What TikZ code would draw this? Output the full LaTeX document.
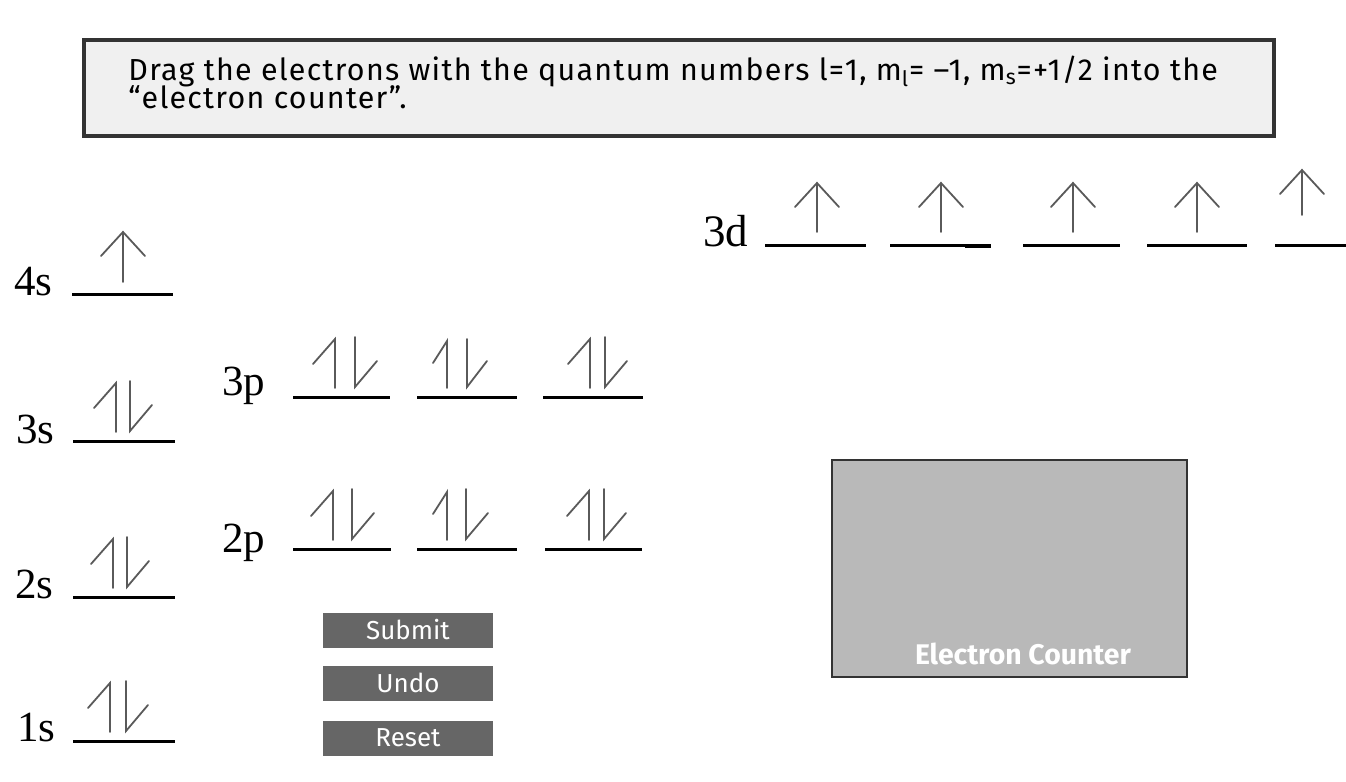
\documentclass[tikz,border=0pt]{standalone}
\usepackage{fontspec}
\setmainfont{Liberation Serif}
\newfontfamily\uifont{Fira Sans}
\newfontfamily\askfont[LetterSpace=4.2]{Fira Sans}
\usepackage{tikz}
\usetikzlibrary{arrows.meta}
\usepackage{xcolor}
\definecolor{panelgray}{HTML}{F0F0F0}
\definecolor{framegray}{HTML}{333333}
\definecolor{buttongray}{HTML}{666666}
\definecolor{countergray}{HTML}{B9B9B9}
\definecolor{spingray}{HTML}{5A5A5A}

\begin{document}
\begin{tikzpicture}[x=0.5pt,y=-0.5pt,line cap=round,
  level/.style={line width=1.5pt,black,line cap=butt},
  spin/.style={line width=0.9pt,spingray,line join=miter},
  shell/.style={anchor=base west,inner sep=0pt,font=\fontsize{21.5}{24}\selectfont},
  ask/.style={anchor=base west,inner sep=0pt,font=\askfont\fontsize{15.2}{17}\selectfont},
  button/.style={fill=buttongray,text=white,minimum width=85pt,minimum height=17.5pt,inner sep=0pt,font=\uifont\fontsize{13}{15}\selectfont}]
\useasboundingbox[fill=white] (0,0) rectangle (1346,782);
% question panel
\draw[fill=panelgray,draw=framegray,line width=2pt] (84,40) rectangle (1274,136);
\node[ask] (ask1) at (128,80) {Drag the electrons with the quantum numbers l=1, m\textsubscript{l}= –1, m\textsubscript{s}=+1/2 into the};
\node[ask] (ask2) at (128,108) {“electron counter”.};
% shell labels
\node[shell] (l4s) at (14,295) {4s};
\node[shell] (l3s) at (16,443) {3s};
\node[shell] (l2s) at (15,598) {2s};
\node[shell] (l1s) at (17,741) {1s};
\node[shell] (l3p) at (222,395) {3p};
\node[shell] (l2p) at (222,552) {2p};
\node[shell,font=\fontsize{22.5}{26}\selectfont] (l3d) at (703,246) {3d};
% orbital lines
\draw[level] (72,294) -- (173,294);
\draw[level] (73,441) -- (175,441);
\draw[level] (73,597) -- (175,597);
\draw[level] (73,741) -- (175,741);
\draw[level] (293,397) -- (390,397);
\draw[level] (417,397) -- (517,397);
\draw[level] (543,397) -- (643,397);
\draw[level] (293,549) -- (391,549);
\draw[level] (417,549) -- (517,549);
\draw[level] (545,549) -- (642,549);
\draw[level] (765,245) -- (866,245);
\draw[level] (890,245) -- (991,245);
\draw[level,line width=2pt] (965,246) -- (991,246);
\draw[level] (1023,245) -- (1120,245);
\draw[level] (1147,245) -- (1247,245);
\draw[level] (1275,245) -- (1346,245);
% paired electrons
\draw[spin] (110,732) -- (110,683) -- (88,708);
\draw[spin] (148,705) -- (126,731) -- (126,681);
\draw[spin] (113,588) -- (113,539) -- (91,564);
\draw[spin] (149,561) -- (127,587) -- (127,537);
\draw[spin] (116,432) -- (116,383) -- (94,408);
\draw[spin] (152,405) -- (130,431) -- (130,381);
\draw[spin] (335,388) -- (335,339) -- (313,364);
\draw[spin] (377,361) -- (355,387) -- (355,337);
\draw[spin] (447,388) -- (447,341) -- (433,363);
\draw[spin] (487,361) -- (467,387) -- (467,339);
\draw[spin] (590,388) -- (590,339) -- (568,364);
\draw[spin] (627,361) -- (605,387) -- (605,337);
\draw[spin] (333,540) -- (333,491) -- (311,516);
\draw[spin] (374,513) -- (352,539) -- (352,489);
\draw[spin] (447,540) -- (447,492) -- (433,514);
\draw[spin] (488,513) -- (466,539) -- (466,489);
\draw[spin] (589,540) -- (589,491) -- (567,516);
\draw[spin] (626,513) -- (604,539) -- (604,489);
% unpaired electrons
\draw[spin] (123,282) -- (123,232) (101,256) -- (123,232) -- (145,256);
\draw[spin] (817,232) -- (817,183) (795,207) -- (817,183) -- (839,207);
\draw[spin] (941,232) -- (941,183) (919,207) -- (941,183) -- (963,207);
\draw[spin] (1073,232) -- (1073,183) (1051,207) -- (1073,183) -- (1095,207);
\draw[spin] (1197,232) -- (1197,183) (1175,207) -- (1197,183) -- (1219,207);
\draw[spin] (1302,215) -- (1302,170) (1280,194) -- (1302,170) -- (1324,194);
% buttons
\node[button] (submit) at (408,630) {Submit};
\node[button] (undo) at (408,683) {Undo};
\node[button] (reset) at (408,738) {Reset};
% electron counter
\node[fill=countergray,draw=framegray,line width=1.3pt,minimum width=177.5pt,minimum height=108.5pt,inner sep=0pt] (counter) at (1009.5,568.5) {};
\node[text=white,inner sep=0pt,font=\uifont\bfseries\fontsize{14.2}{16}\selectfont] (counterlabel) at (1023,654) {Electron Counter};
\end{tikzpicture}
\end{document}
